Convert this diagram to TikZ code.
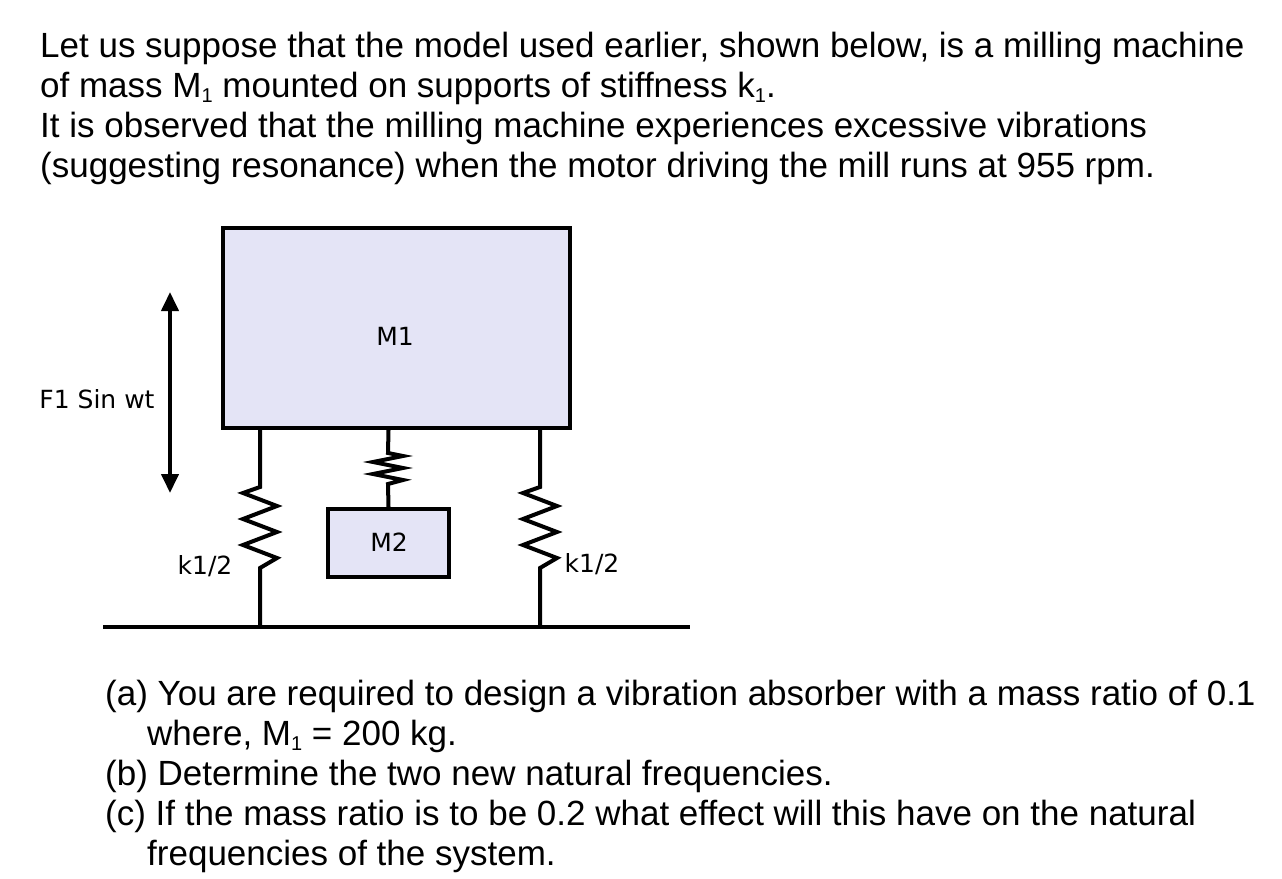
\documentclass[tikz,border=0pt]{standalone}
\usepackage{fontspec}
\setmainfont{Liberation Sans}
\newfontfamily\dv{DejaVu Sans}
\usetikzlibrary{arrows.meta}
\definecolor{massfill}{HTML}{E4E4F6}
\newcommand{\sbs}[1]{\raisebox{-0.15em}{\fontsize{20}{20}\selectfont #1}}
\begin{document}
\begin{tikzpicture}[x=1pt,y=-1pt,
  txt/.style={anchor=base west,inner sep=0pt,font=\fontsize{35}{40}\selectfont},
  lbl/.style={inner sep=0pt,font=\dv\fontsize{25}{28}\selectfont},
  mass/.style={draw,line width=4pt,fill=massfill,inner sep=0pt},
  wire/.style={line width=4pt}]
\useasboundingbox (0,0) rectangle (1282,878);
\node[txt] (t1) at (40,57) {Let us suppose that the model used earlier, shown below, is a milling machine};
\node[txt] (t2) at (40,97) {of mass M\sbs{1} mounted on supports of stiffness k\sbs{1}.};
\node[txt] (t3) at (40,137) {It is observed that the milling machine experiences excessive vibrations};
\node[txt] (t4) at (40,177) {(suggesting resonance) when the motor driving the mill runs at 955 rpm.};
\node[mass,minimum width=347pt,minimum height=200pt] (m1) at (396.5,328) {};
\node[lbl] at (395,336) {M1};
\node[mass,minimum width=121pt,minimum height=68pt] (m2) at (388.5,543) {};
\node[lbl] at (389,542) {M2};
\coordinate (gl) at (103,627); \coordinate (gr) at (690,627);
\draw[wire] (gl) -- (gr);
% left spring
\draw[wire,line join=miter] (260,428) -- (260,487) -- ++(-17,6) -- ++(34,13) -- ++(-34,13) -- ++(34,13) -- ++(-34,13) -- ++(34,13) -- (260,568) -- (260,627);
% right spring
\draw[wire,line join=miter] (540,428) -- (540,487) -- ++(-17,6) -- ++(34,13) -- ++(-34,13) -- ++(34,13) -- ++(-34,13) -- ++(34,13) -- (540,568) -- (540,627);
% middle spring
\draw[wire,line join=miter] (m1.south -| m2.north) -- (388,453) -- ++(15,3) -- ++(-30,6) -- ++(30,6) -- ++(-30,6) -- ++(30,6) -- ++(-15,4) -- (m2.north);
\coordinate (at) at (170,292); \coordinate (ab) at (170,493);
\draw[wire,{Triangle[length=19pt,width=17pt]}-{Triangle[length=19pt,width=17pt]}] (at) -- (ab);
\node[lbl] at (97,399) {F1 Sin wt};
\node[lbl] at (205,566) {k1/2};
\node[lbl] at (592,564) {k1/2};
\node[txt] (a1) at (105,705) {(a) You are required to design a vibration absorber with a mass ratio of 0.1};
\node[txt] (a2) at (147,745) {where, M\sbs{1} = 200 kg.};
\node[txt] (b1) at (105,785) {(b) Determine the two new natural frequencies.};
\node[txt] (c1) at (105,825) {(c) If the mass ratio is to be 0.2 what effect will this have on the natural};
\node[txt] (c2) at (147,865) {frequencies of the system.};
\end{tikzpicture}
\end{document}
